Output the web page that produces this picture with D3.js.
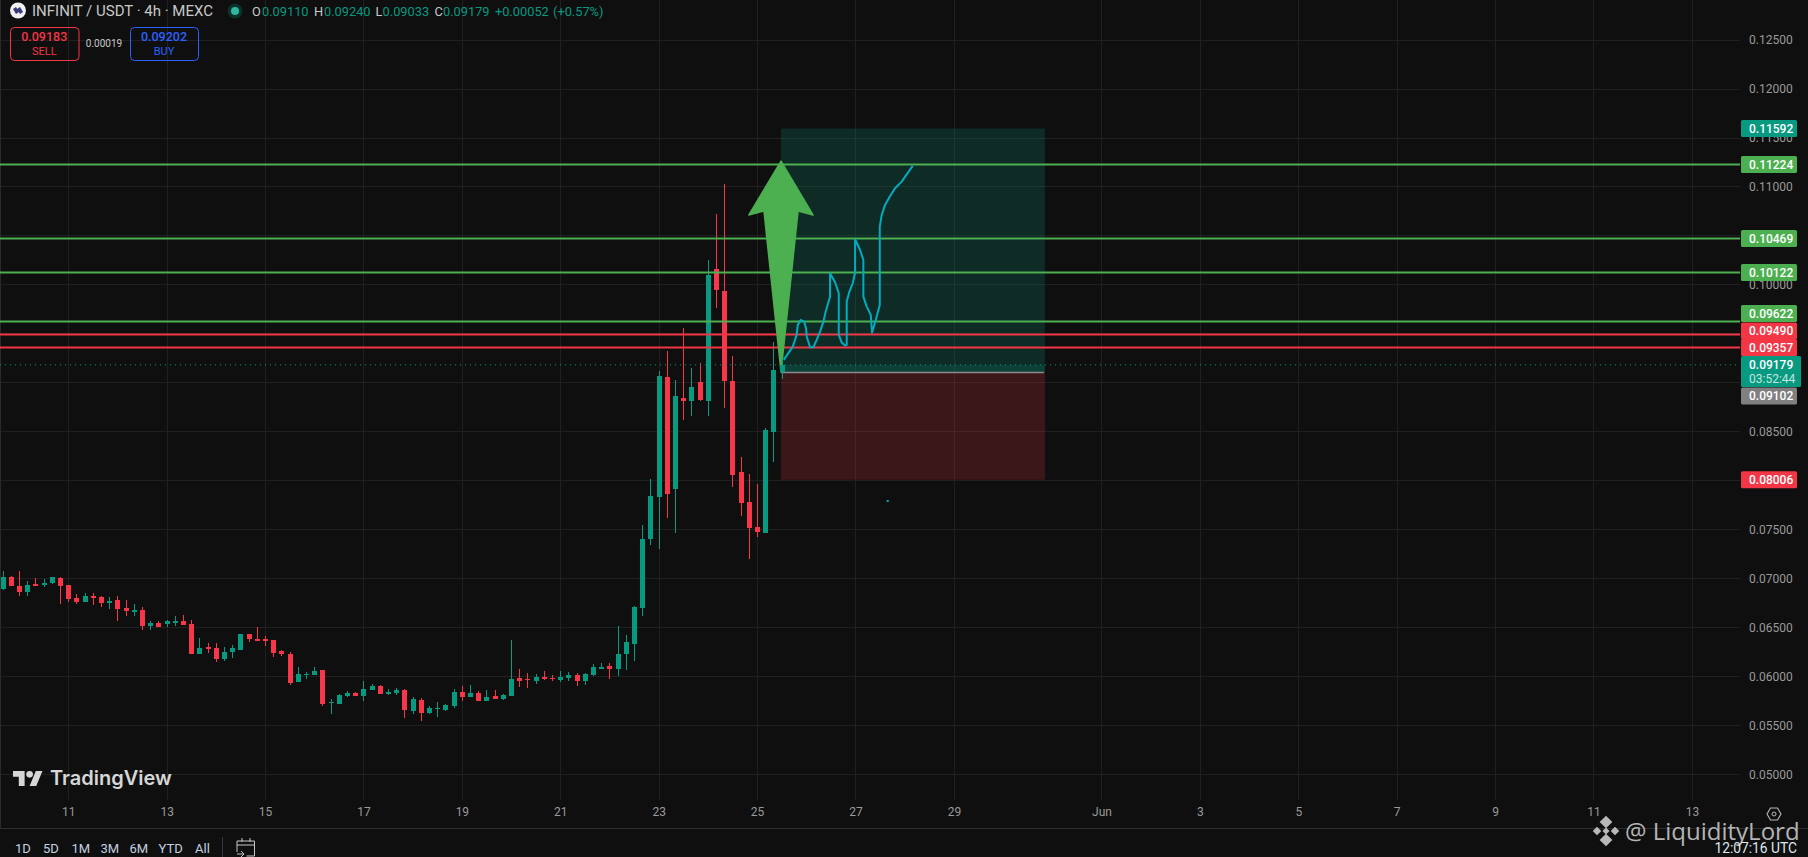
<!DOCTYPE html>
<html><head><meta charset="utf-8">
<script src="https://cdn.jsdelivr.net/npm/d3@7/dist/d3.min.js"></script>
<style>html,body{margin:0;padding:0;background:#0f0f0f;overflow:hidden}svg{display:block}text{font-family:Roboto,sans-serif}</style>
</head><body><svg id="c" width="1808" height="857"></svg>
<script>
const opens=[.06891,.07013,.06922,.06860,.06942,.06932,.06952,.07003,.06932,.06799,.06758,.06820,.06809,.06748,.06779,.06697,.06666,.06677,.06513,.06544,.06534,.06554,.06564,.06534,.06228,.06299,.06289,.06177,.06248,.06269,.06432,.06381,.06381,.06371,.06258,.06228,.05942,.06013,.06013,.06064,
.05731,.05718,.05799,.05830,.05799,.05861,.05901,.05820,.05830,.05861,.05646,.05759,.05626,.05667,.05657,.05697,.05840,.05789,.05830,.05748,.05799,.05769,.05799,.05983,.05973,.05952,.05993,.05983,.05963,.05983,.06014,.05952,.06014,.06085,.06106,.06075,.06228,.06330,.06697,
.07401,.07830,.09054,.07912,.08840,.08810,.09003,.08810,.10157,.09932,.09014,.08085,.07779,.07524,.07463,.08493,.09110];
const highs=[.07075,.07024,.07075,.06973,.07003,.06993,.07013,.07013,.06932,.06840,.06850,.06850,.06820,.06809,.06820,.06779,.06738,.06707,.06564,.06564,.06575,.06615,.06626,.06575,.06391,.06340,.06340,.06299,.06320,.06432,.06432,.06503,.06411,.06371,.06269,.06248,.06095,.06044,.06095,.06064,
.05769,.05820,.05850,.05840,.05952,.05922,.05912,.05871,.05881,.05871,.05789,.05779,.05697,.05738,.05718,.05871,.05901,.05912,.05850,.05861,.05861,.05820,.06371,.06075,.06034,.06024,.06054,.06014,.06054,.06044,.06034,.06034,.06126,.06136,.06136,.06514,.06422,.06718,.07544,
.08010,.09116,.09320,.09024,.09554,.09146,.09197,.10248,.10718,.11024,.09269,.08238,.08065,.07963,.08534,.09412,.09240];
const lows=[.06881,.06922,.06820,.06820,.06922,.06911,.06942,.06738,.06758,.06738,.06758,.06728,.06707,.06687,.06564,.06615,.06615,.06473,.06473,.06503,.06503,.06513,.06524,.06228,.06228,.06238,.06146,.06156,.06187,.06269,.06350,.06371,.06309,.06197,.06207,.05911,.05942,.05973,.06013,.05697,
.05616,.05718,.05789,.05799,.05748,.05861,.05820,.05810,.05810,.05575,.05616,.05544,.05616,.05585,.05646,.05677,.05748,.05789,.05748,.05748,.05769,.05759,.05799,.05891,.05881,.05922,.05963,.05952,.05942,.05952,.05901,.05912,.06003,.06075,.05973,.06003,.06065,.06157,.06616,
.07340,.07299,.07616,.07463,.08616,.08656,.08810,.08656,.09759,.08738,.07932,.07636,.07197,.07422,.07463,.08187,.09033];
const closes=[.07013,.06922,.06860,.06932,.06932,.06952,.07013,.06922,.06789,.06758,.06820,.06799,.06748,.06769,.06687,.06666,.06677,.06513,.06544,.06503,.06564,.06564,.06524,.06228,.06289,.06289,.06177,.06248,.06289,.06432,.06381,.06371,.06371,.06238,.06228,.05932,.06024,.06024,.06054,.05718,
.05742,.05810,.05830,.05799,.05871,.05901,.05820,.05840,.05861,.05657,.05769,.05626,.05677,.05677,.05708,.05840,.05789,.05830,.05748,.05789,.05769,.05810,.05973,.05952,.05963,.05993,.05983,.05973,.05993,.06014,.05952,.06024,.06095,.06095,.06075,.06228,.06350,.06708,.07401,
.07840,.09065,.07861,.08861,.08810,.08952,.08820,.10095,.09942,.09014,.08054,.07769,.07514,.07473,.08514,.09126,.09179];

const priceTicks=[.125,.12,.115,.11,.105,.10,.095,.09,.085,.08,.075,.07,.065,.06,.055,.05];
const coveredTickLabels=[.105,.095,.09,.08];
const dayLabels=["11","13","15","17","19","21","23","25","27","29","Jun","3","5","7","9","11","13"];
const dayOffsets=[0,2,4,6,8,10,12,14,16,18,21,23,25,27,29,31,33];
const barsPerDay=6, firstDayBar=8;

const greenLevels=[.11224,.10469,.10122,.09622];
const redLevels=[.09490,.09357];
const tagPrices=[.11592,.11224,.10469,.10122,.09622,.09490,.09357,.09102,.08006];
const tagKinds=["target","level","level","level","level","stop","stop","entry","stop"];

const positionBars=[94.92,127.1];
const positionPrices={target:.11592,entry:.09102,stop:.08006};
const lastPrice=.09179;

const arrowBars=[94.92,91.0,92.84,94.92,97.0,98.82];
const arrowPrices=[.1126,.10709,.1075,.09106,.1075,.10709];

const brushBars=[95.25,96.35,96.83,96.96,97.32,97.73,97.97,98.05,98.46,98.87,99.27,99.68,100.09,100.37,100.90,100.90,101.51,101.96,101.96,102.32,102.73,102.93,102.93,103.26,103.66,103.95,103.95,104.56,104.96,104.96,105.37,105.86,106.02,106.47,106.96,106.96,107.20,107.61,108.22,108.83,109.64,110.05,110.98];
const brushPrices=[.09230,.09366,.09485,.09587,.09638,.09621,.09553,.09468,.09359,.09359,.09434,.09519,.09621,.09723,.09876,.10114,.10023,.09910,.09485,.09407,.09376,.09383,.09825,.09927,.10012,.10121,.10461,.10352,.10250,.09876,.09774,.09689,.09509,.09638,.09791,.10591,.10710,.10812,.10903,.10982,.11050,.11101,.11210];
const strayDot=[107.93,.07790];

const legendItems=[["O",252,"0.09110",262],["H",314,"0.09240",324],["L",375.5,"0.09033",382.6],["C",434.4,"0.09179",443]];
const rangeButtons=[["1D",15],["5D",43],["1M",71.5],["3M",100.5],["6M",129.5],["YTD",158.5],["All",195]];

const W=1808,plotR=1740,plotB=800,footY=828;
const GREEN="#089981",RED="#f7364a",LG="#4caf50";
const svg=d3.select("#c");
svg.append("rect").attr("width",W).attr("height",857).attr("fill","#0f0f0f");

const x=d3.scaleLinear().domain([0,206]).range([2.67,1691.9]);
const y=d3.scaleLinear().domain([.115,.05]).range([137.5,774.3]);
const crisp=v=>Math.round(v)+.5;
const tickBars=dayOffsets.map(d=>firstDayBar+d*barsPerDay);

// grid
const grid=svg.append("g").attr("stroke","#202020").attr("stroke-width",1);
tickBars.forEach(b=>grid.append("line").attr("x1",crisp(x(b))).attr("x2",crisp(x(b))).attr("y1",0).attr("y2",plotB));
priceTicks.forEach(p=>grid.append("line").attr("x1",0).attr("x2",plotR).attr("y1",crisp(y(p))).attr("y2",crisp(y(p))));
svg.append("line").attr("x1",.5).attr("x2",.5).attr("y1",0).attr("y2",footY).attr("stroke","#2a2a2a");
svg.append("line").attr("x1",0).attr("x2",W).attr("y1",footY+.5).attr("y2",footY+.5).attr("stroke","#2e2e2e");

// axes
const yAxis=d3.axisRight(y).tickValues(priceTicks.filter(p=>!coveredTickLabels.includes(p))).tickFormat(d3.format(".5f")).tickSize(0).tickPadding(0);
const gy=svg.append("g").attr("transform","translate(1749,0)").call(yAxis);
gy.select(".domain").remove();
gy.selectAll("text").attr("font-size",12).attr("fill","#9a9a9a").attr("font-family","Roboto");
const xAxis=d3.axisBottom(x).tickValues(tickBars).tickFormat((d,i)=>dayLabels[i]).tickSize(0).tickPadding(0);
const gx=svg.append("g").attr("transform","translate(0,807)").call(xAxis);
gx.select(".domain").remove();
gx.selectAll("text").attr("font-size",12).attr("fill","#9a9a9a").attr("font-family","Roboto");

// position tool
const px0=x(positionBars[0]),px1=x(positionBars[1]);
svg.append("rect").attr("x",px0).attr("width",px1-px0).attr("y",y(positionPrices.target)).attr("height",y(positionPrices.entry)-y(positionPrices.target)).attr("fill","#089981").attr("fill-opacity",.2);
svg.append("rect").attr("x",px0).attr("width",px1-px0).attr("y",y(lastPrice)).attr("height",y(positionPrices.entry)-y(lastPrice)).attr("fill","#089981").attr("fill-opacity",.2);
svg.append("rect").attr("x",px0).attr("width",px1-px0).attr("y",y(positionPrices.entry)).attr("height",y(positionPrices.stop)-y(positionPrices.entry)).attr("fill","#f23645").attr("fill-opacity",.2);

// candles
const candles=svg.append("g").attr("shape-rendering","crispEdges");
opens.forEach((o,i)=>{
  const c=closes[i],col=c>=o?GREEN:RED,cx=Math.round(x(i));
  candles.append("rect").attr("x",cx).attr("width",1).attr("y",y(highs[i])).attr("height",y(lows[i])-y(highs[i])).attr("fill",col);
  const t=y(Math.max(o,c)),h=Math.max(1.5,Math.abs(y(o)-y(c)));
  candles.append("rect").attr("x",cx-2).attr("width",5).attr("y",t).attr("height",h).attr("fill",col);
});

// last price line
svg.append("line").attr("x1",0).attr("x2",plotR).attr("y1",y(lastPrice)).attr("y2",y(lastPrice)).attr("stroke",GREEN).attr("stroke-width",1).attr("stroke-dasharray","1 4");

// levels
greenLevels.forEach(p=>svg.append("line").attr("x1",0).attr("x2",plotR).attr("y1",y(p)).attr("y2",y(p)).attr("stroke",LG).attr("stroke-width",2));
redLevels.forEach(p=>svg.append("line").attr("x1",0).attr("x2",plotR).attr("y1",y(p)).attr("y2",y(p)).attr("stroke","#f23645").attr("stroke-width",2));

// entry line
svg.append("line").attr("x1",px0).attr("x2",px1-1).attr("y1",y(positionPrices.entry)).attr("y2",y(positionPrices.entry)).attr("stroke","#8a8a8a").attr("stroke-width",1.5);

// arrow
svg.append("path").attr("d",d3.line().x(d=>x(d[0])).y(d=>y(d[1]))(d3.zip(arrowBars,arrowPrices))+"Z").attr("fill",LG).attr("stroke",LG).attr("stroke-width",1.5).attr("stroke-linejoin","round");

// brush
svg.append("path").attr("d",d3.line().x(d=>x(d[0])).y(d=>y(d[1]))(d3.zip(brushBars,brushPrices))).attr("fill","none").attr("stroke","#00acc1").attr("stroke-width",2).attr("stroke-linejoin","round");
svg.append("rect").attr("x",x(strayDot[0])-1).attr("y",y(strayDot[1])-1).attr("width",2).attr("height",2).attr("fill","#00acc1");

// current bar re-drawn over the arrow
const last=opens.length-1;
const lastBar=svg.append("g").attr("shape-rendering","crispEdges");
lastBar.append("rect").attr("x",Math.round(x(last))).attr("width",1).attr("y",y(highs[last])).attr("height",y(lows[last])-y(highs[last])).attr("fill",GREEN);
lastBar.append("rect").attr("x",Math.round(x(last))-2).attr("width",5).attr("y",y(closes[last])).attr("height",y(opens[last])-y(closes[last])).attr("fill",GREEN);

// price tags
const tagFill={target:GREEN,level:LG,stop:"#f23645",entry:"#808080"};
const tagShift=[0,0,0,0,-8,-3.5,0,23.5,0];
tagPrices.forEach((p,i)=>{
  const cy=y(p)+tagShift[i];
  svg.append("rect").attr("x",1741).attr("y",cy-8.5).attr("width",56).attr("height",17).attr("rx",1.5).attr("fill",tagFill[tagKinds[i]]);
  svg.append("text").attr("x",1749).attr("y",cy+4.3).attr("font-size",12).attr("font-weight",500).attr("fill","#fff").text(p.toFixed(5));
});
svg.append("rect").attr("x",1741).attr("y",356).attr("width",60).attr("height",31).attr("rx",1.5).attr("fill",GREEN);
svg.append("text").attr("x",1749).attr("y",368.8).attr("font-size",12).attr("font-weight",500).attr("fill","#fff").text(lastPrice.toFixed(5));
svg.append("text").attr("x",1749).attr("y",383).attr("font-size",12).attr("fill","#c4e6df").text("03:52:44");

// header
svg.append("circle").attr("cx",18).attr("cy",10.5).attr("r",8).attr("fill","#f0f0f0");
svg.append("path").attr("d","M13 9l3-2 3 5-3 2zM17 9l3-2 3 5-3 2z").attr("fill","#3a3a7a");
svg.append("text").attr("x",32).attr("y",16).attr("font-size",15).attr("fill","#c8c8c8").text("INFINIT / USDT · 4h · MEXC");
svg.append("circle").attr("cx",235).attr("cy",11).attr("r",7.5).attr("fill",GREEN).attr("fill-opacity",.25);
svg.append("circle").attr("cx",235).attr("cy",11).attr("r",4).attr("fill","#2db89f");
legendItems.forEach(d=>{
  svg.append("text").attr("x",d[1]).attr("y",15.5).attr("font-size",12.8).attr("fill","#c8c8c8").text(d[0]);
  svg.append("text").attr("x",d[3]).attr("y",15.5).attr("font-size",12.8).attr("fill",GREEN).text(d[2]);
});
svg.append("text").attr("x",495).attr("y",15.5).attr("font-size",12.8).attr("fill",GREEN).text("+0.00052");
svg.append("text").attr("x",553).attr("y",15.5).attr("font-size",12.8).attr("fill",GREEN).text("(+0.57%)");

// sell / buy
function box(x0,wd,col,a,b){
  svg.append("rect").attr("x",x0+.5).attr("y",27.5).attr("width",wd).attr("height",33).attr("rx",4).attr("fill","none").attr("stroke",col);
  svg.append("text").attr("x",x0+wd/2).attr("y",41).attr("text-anchor","middle").attr("font-size",12.5).attr("font-weight",500).attr("fill",col).text(a);
  svg.append("text").attr("x",x0+wd/2).attr("y",55).attr("text-anchor","middle").attr("font-size",11).attr("fill",col).text(b);
}
box(10,68.5,"#f23645","0.09183","SELL");
box(130,68,"#2962ff","0.09202","BUY");
svg.append("text").attr("x",104).attr("y",47).attr("text-anchor","middle").attr("font-size",10).attr("fill","#c8c8c8").text("0.00019");

// TradingView logo
svg.append("g").attr("transform","translate(13,767.7) scale(.83)").attr("fill","#d6d6d6").call(g=>{
  g.append("path").attr("d","M14 22H7V11H0V4h14v18ZM28 22h-8l7.5-18h8L28 22Z");
  g.append("circle").attr("cx",20).attr("cy",8).attr("r",4);
});
svg.append("text").attr("x",50).attr("y",785).attr("font-size",20).attr("font-weight",600).attr("fill","#d6d6d6").style("font-family","Inter").text("TradingView");

// footer
rangeButtons.forEach(d=>svg.append("text").attr("x",d[1]).attr("y",853).attr("font-size",13).attr("fill","#c4d0e0").text(d[0]));
svg.append("line").attr("x1",222.5).attr("x2",222.5).attr("y1",837).attr("y2",857).attr("stroke","#3a3a3a");
svg.append("path").attr("d","M244 841h10.5v15h-8M237 852v-11h7M237 845h17.5M242 838v4M250 838v4M237 854h7M241 851l3 3-3 3").attr("fill","none").attr("stroke","#c8c8c8").attr("stroke-width",1);
svg.append("path").attr("d","M1767 814l3.5-6h7l3.5 6-3.5 6h-7z").attr("fill","none").attr("stroke","#b8b8b8").attr("stroke-width",1.1);
svg.append("circle").attr("cx",1774).attr("cy",814).attr("r",2).attr("fill","none").attr("stroke","#b8b8b8");

// watermark
const bn=svg.append("g").attr("transform","translate(1606,831)").attr("fill","#b8b8b8");
[[0,-9,4.5],[-9,0,3],[9,0,3],[0,9,4.5],[0,0,2.5]].forEach(d=>bn.append("rect").attr("x",d[0]-d[2]).attr("y",d[1]-d[2]).attr("width",d[2]*2).attr("height",d[2]*2).attr("transform",`rotate(45 ${d[0]} ${d[1]})`));
svg.append("text").attr("x",1625).attr("y",839.5).attr("font-size",24).attr("fill","#b4b4b4").style("font-family","Open Sans").text("@ LiquidityLord");
svg.append("text").attr("x",1797).attr("y",853).attr("text-anchor","end").attr("font-size",13.8).attr("fill","#dfe6ee").text("12:07:16 UTC");
</script></body></html>
